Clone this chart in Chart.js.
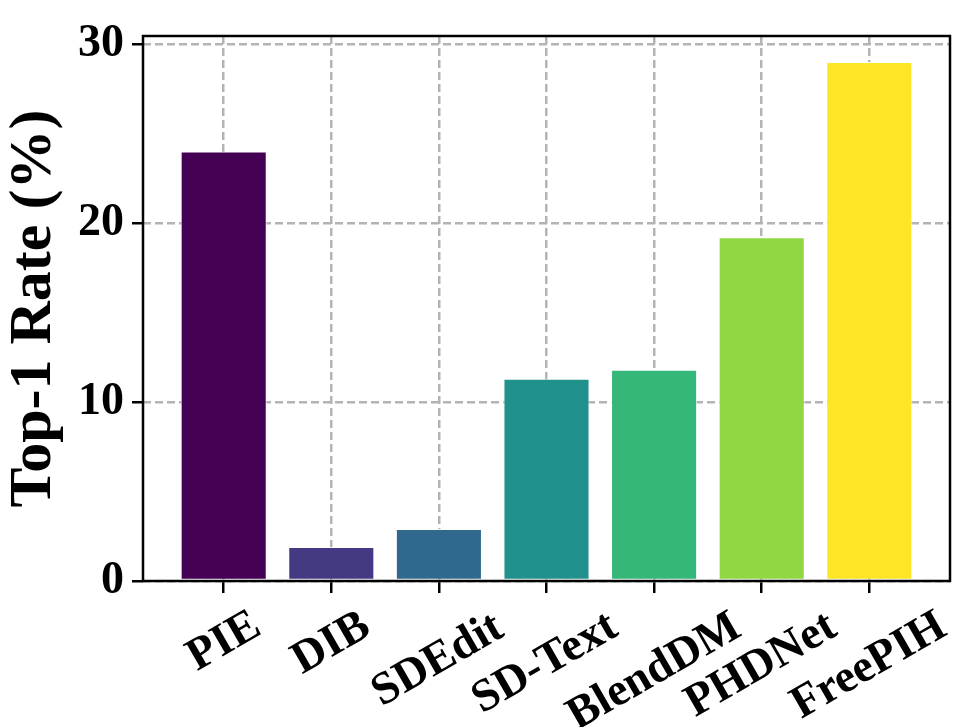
<!DOCTYPE html>
<html>
<head>
<meta charset="utf-8">
<script src="https://cdn.jsdelivr.net/npm/chart.js@4.4.0/dist/chart.umd.min.js"></script>
<style>
  body { margin: 0; background: #fff; }
</style>
</head>
<body>
<canvas id="chart" width="969" height="727"></canvas>
<script>
const categories = ['PIE', 'DIB', 'SDEdit', 'SD-Text', 'BlendDM', 'PHDNet', 'FreePIH'];
const values = [24.0, 1.9, 2.9, 11.3, 11.8, 19.2, 29.0];
const barColors = ['#440154', '#443983', '#31688e', '#21918c', '#35b779', '#90d743', '#fde725'];
const yTicks = [0, 10, 20, 30];

const serif = '"Liberation Serif", "Times New Roman", serif';

// frame round the plot area, drawn over the bars
const framePlugin = {
    id: 'frame',
    afterDatasetsDraw(chart) {
        const { ctx, chartArea } = chart;
        ctx.save();
        ctx.strokeStyle = '#000';
        ctx.lineWidth = 2.5;
        ctx.strokeRect(chartArea.left, chartArea.top,
            chartArea.right - chartArea.left, chartArea.bottom - chartArea.top);
        ctx.restore();
    }
};

// rotated x labels, centred under each tick like matplotlib does
const xLabelPlugin = {
    id: 'xLabels',
    afterDraw(chart) {
        const { ctx, chartArea } = chart;
        const xScale = chart.scales.x;
        const ang = -30 * Math.PI / 180;
        const cs = Math.cos(ang), sn = Math.abs(Math.sin(ang));
        ctx.save();
        ctx.font = 'bold 46px ' + serif;
        ctx.fillStyle = '#000';
        ctx.textAlign = 'left';
        ctx.textBaseline = 'alphabetic';
        categories.forEach(function (label, i) {
            const m = ctx.measureText(label);
            const w = m.actualBoundingBoxRight + m.actualBoundingBoxLeft;
            const h = m.actualBoundingBoxAscent + m.actualBoundingBoxDescent;
            const bh = w * sn + h * cs;
            const cx = xScale.getPixelForValue(i) - 2;
            const cy = chartArea.bottom + 26 + bh / 2;
            ctx.save();
            ctx.translate(cx, cy);
            ctx.rotate(ang);
            ctx.fillText(label, -w / 2 + m.actualBoundingBoxLeft,
                (m.actualBoundingBoxAscent - m.actualBoundingBoxDescent) / 2);
            ctx.restore();
        });
        ctx.restore();
    }
};

const config = {
    type: 'bar',
    data: {
        datasets: [{
            data: values.map((v, i) => ({ x: i, y: v })),
            backgroundColor: barColors,
            borderColor: 'rgba(255,255,255,0.85)',
            borderWidth: 1,
            borderSkipped: false,
            categoryPercentage: 1,
            barPercentage: 0.8
        }]
    },
    options: {
        responsive: false,
        devicePixelRatio: 1,
        animation: false,
        layout: {
            padding: { left: 4, right: 19, top: 36, bottom: 134 }
        },
        scales: {
            x: {
                type: 'linear',
                offset: false,
                min: -0.75,
                max: 6.75,
                afterBuildTicks: (axis) => { axis.ticks = categories.map((c, i) => ({ value: i })); },
                ticks: { display: false },
                grid: {
                    offset: false,
                    color: '#b4b4b4',
                    lineWidth: 2.5,
                    tickColor: '#000',
                    tickWidth: 2.5,
                    tickLength: 12,
                    tickBorderDash: []
                },
                border: { display: false, dash: [8, 4] }
            },
            y: {
                min: 0,
                max: 30.45,
                afterBuildTicks: (axis) => { axis.ticks = yTicks.map(v => ({ value: v })); },
                ticks: {
                    color: '#000',
                    padding: 8,
                    font: { family: serif, size: 46, weight: 'bold' }
                },
                grid: {
                    color: '#b4b4b4',
                    lineWidth: 2.5,
                    tickColor: '#000',
                    tickWidth: 2.5,
                    tickLength: 11,
                    tickBorderDash: []
                },
                border: { display: false, dash: [8, 4] },
                title: {
                    display: true,
                    text: 'Top-1 Rate (%)',
                    color: '#000',
                    font: { family: serif, size: 60, weight: 'bold', lineHeight: 1 },
                    padding: { top: 0, bottom: 6 }
                }
            }
        },
        plugins: {
            legend: { display: false },
            tooltip: { enabled: false }
        }
    },
    plugins: [framePlugin, xLabelPlugin]
};

new Chart(document.getElementById('chart'), config);
</script>
</body>
</html>
